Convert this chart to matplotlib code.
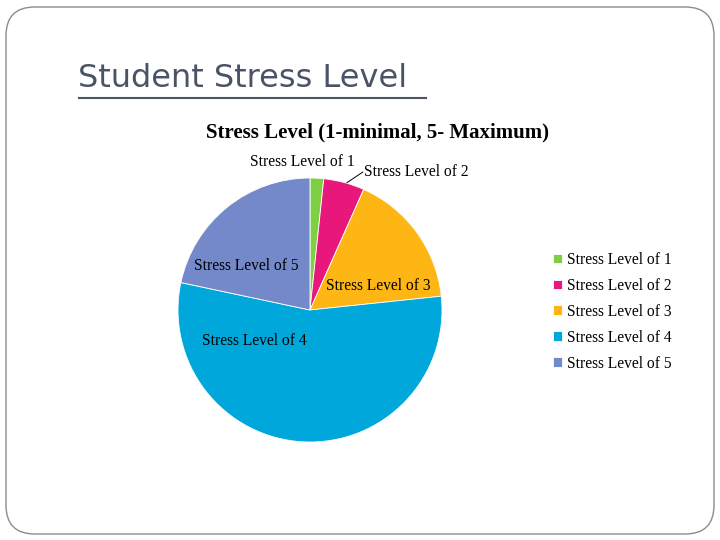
import matplotlib
matplotlib.use("Agg")
import matplotlib.pyplot as plt
from matplotlib.patches import FancyBboxPatch

# data (counts of students per stress level)
labels = ["Stress Level of 1", "Stress Level of 2", "Stress Level of 3",
          "Stress Level of 4", "Stress Level of 5"]
counts = [1, 3, 10, 33, 13]
colors = ["#7fcf45", "#e7177b", "#fdb614", "#00a7da", "#7489c9"]

# where excel put each data label, in units of pie radius
label_pos = [(-0.06, 1.12), (0.41, 1.045), (0.52, 0.18), (-0.42, -0.235), (-0.48, 0.33)]
label_ha = ["center", "left", "center", "center", "center"]

W, H = 720, 540
fig = plt.figure(figsize=(7.2, 5.4), dpi=100)
fig.patch.set_facecolor("white")

# slide border
border = FancyBboxPatch((6 / W, 6 / H), 708 / W, 527 / H,
                        boxstyle="round,pad=0,rounding_size=0.04",
                        transform=fig.transFigure, facecolor="none",
                        edgecolor="#8c8c8c", linewidth=1.0,
                        mutation_aspect=W / H)
fig.patches.append(border)

# slide title
fig.text(78 / W, 1 - 87 / H, "Student Stress Level", fontsize=23,
         family="DejaVu Sans", color="#4a5466", va="baseline", ha="left")
fig.add_artist(plt.Line2D([79 / W, 426 / W], [1 - 98 / H, 1 - 98 / H],
                          color="#4a5466", lw=1.5, transform=fig.transFigure))

# chart title
fig.text(378 / W, 1 - 132 / H, "Stress Level (1-minimal, 5- Maximum)",
         fontsize=15, fontweight="bold", family="Liberation Serif",
         color="black", ha="center", va="center")

cx, cy, r = 310, 310, 132
ax = fig.add_axes([(cx - r) / W, 1 - (cy + r) / H, 2 * r / W, 2 * r / H])
wedges, _ = ax.pie(counts, colors=colors, startangle=90, counterclock=False,
                   radius=1, wedgeprops=dict(linewidth=0.6, edgecolor="white"))
ax.set_xlim(-1, 1)
ax.set_ylim(-1, 1)
ax.set_aspect("equal")
ax.axis("off")

for i, lab in enumerate(labels):
    x, y = label_pos[i]
    ax.text(x, y, lab, ha=label_ha[i], va="center", fontsize=11.2,
            family="Liberation Serif", color="black", clip_on=False)

# leader line for the level 2 label
ax.plot([0.28, 0.40], [0.965, 1.045], color="black", lw=0.7, clip_on=False)

leg = fig.legend(wedges, labels, loc="upper left",
                 bbox_to_anchor=(539 / W, 1 - 238 / H), frameon=False,
                 prop={"family": "Liberation Serif", "size": 11.2},
                 handlelength=0.6, handleheight=0.6, handletextpad=0.3,
                 labelspacing=0.64)

fig.savefig("out.png", dpi=100, facecolor="white")
